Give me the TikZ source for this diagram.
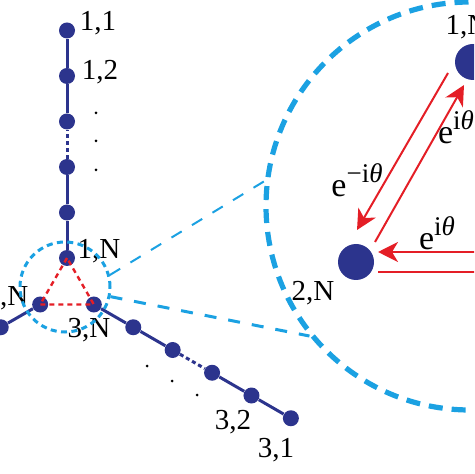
\documentclass[tikz,border=0pt]{standalone}
\usepackage{fontspec}
\setmainfont{Liberation Serif}
\usetikzlibrary{arrows.meta,calc,positioning}
\definecolor{chainblue}{RGB}{44,52,141}
\definecolor{zoomcyan}{RGB}{27,161,226}
\definecolor{hopred}{RGB}{228,30,38}
\newcommand{\phasefac}[1]{e\raisebox{0.4em}{\fontsize{13.5}{14}\selectfont #1}}

\begin{document}
\begin{tikzpicture}[x=0.5pt,y=-0.5pt,
    site/.style={circle,fill=chainblue,inner sep=0pt,minimum size=8pt},
    bigsite/.style={circle,fill=chainblue,inner sep=0pt,minimum size=18pt},
    bond/.style={chainblue,line width=1.5pt},
    gapbond/.style={chainblue,line width=1.5pt,dash pattern=on 2pt off 1.5pt},
    lbl/.style={font=\fontsize{14.5}{15}\selectfont},
    phase/.style={font=\fontsize{17}{18}\selectfont,inner sep=0pt},
    hop/.style={hopred,line width=1pt},
    hoptip/.style={hop,-{Stealth[length=10pt,width=10pt,inset=3pt]}}]
\useasboundingbox (0,0) rectangle (474,474);
\clip (0,0) rectangle (474,474);

% the three chains, counted from the triangle outwards
\coordinate (ctr) at (67,289);
\foreach \c/\ang in {1/-90,2/150,3/30}{
  \foreach \j in {0,...,5}
    \node[site] (s\c-\j) at ($(ctr)+(\ang:{31+45.5*\j})$) {};
  \draw[bond] (s\c-0) -- (s\c-1) -- (s\c-2);
  \draw[gapbond] (s\c-2) -- (s\c-3);
  \draw[bond] (s\c-3) -- (s\c-4) -- (s\c-5);
}
\foreach \y in {113,141,170} \fill (96,\y) circle (1.5);
\foreach \x/\y in {147/366,172/381,197/395} \fill (\x,\y) circle (1.5);

\node[lbl] (l11) at (98,23) {1,1};
\node[lbl] (l12) at (100,72) {1,2};
\node[lbl] (l1N) at (99,251) {1,N};
\node[lbl] (l2N) at (7,298) {2,N};
\node[lbl] (l3N) at (89,330) {3,N};
\node[lbl] (l32) at (233,422) {3,2};
\node[lbl] (l31) at (276,450) {3,1};

% coupling triangle
\draw[hopred,line width=1.2pt,dash pattern=on 2.5pt off 2pt] (s1-0.center) -- (s2-0.center) -- (s3-0.center) -- cycle;

% zoom
\node[circle,draw=zoomcyan,line width=1.5pt,dash pattern=on 3pt off 2.2pt,minimum size=45pt,inner sep=0pt] (zoomsmall) at (65,287) {};
\node[circle,draw=zoomcyan,line width=2.6pt,dash pattern=on 7pt off 4.5pt,minimum size=204pt,inner sep=0pt] (zoombig) at (470,206) {};
\draw[zoomcyan,line width=1pt,dash pattern=on 6pt off 6pt] (zoomsmall.15) -- (zoombig.173);
\draw[zoomcyan,line width=1.5pt,dash pattern=on 6pt off 6pt] (zoomsmall.-12) -- (zoombig.219);

% magnified sites
\node[bigsite] (b1) at (473,62) {};
\node[bigsite] (b2) at (356,262) {};
\node[lbl] (lb1) at (467,27) {1,N};
\node[lbl] (lb2) at (313,293) {2,N};

\coordinate (d1a) at (448,73);
\coordinate (d1b) at (357,230);
\coordinate (d2a) at (375,242);
\coordinate (d2b) at (464,85);
\coordinate (h1a) at (490,252);
\coordinate (h1b) at (378,252);
\coordinate (h2a) at (378,272);
\coordinate (h2b) at (490,272);
\draw[hoptip] (d1a) -- (d1b);
\draw[hoptip] (d2a) -- (d2b);
\draw[hoptip] (h1a) -- (h1b);
\draw[hop] (h2a) -- (h2b);

\node[phase] (p1) at (357,180) {\phasefac{−i\textit{θ}}};
\node[phase] (p2) at (456,127) {\phasefac{i\textit{θ}}};
\node[phase] (p3) at (437,233) {\phasefac{i\textit{θ}}};
\end{tikzpicture}
\end{document}
